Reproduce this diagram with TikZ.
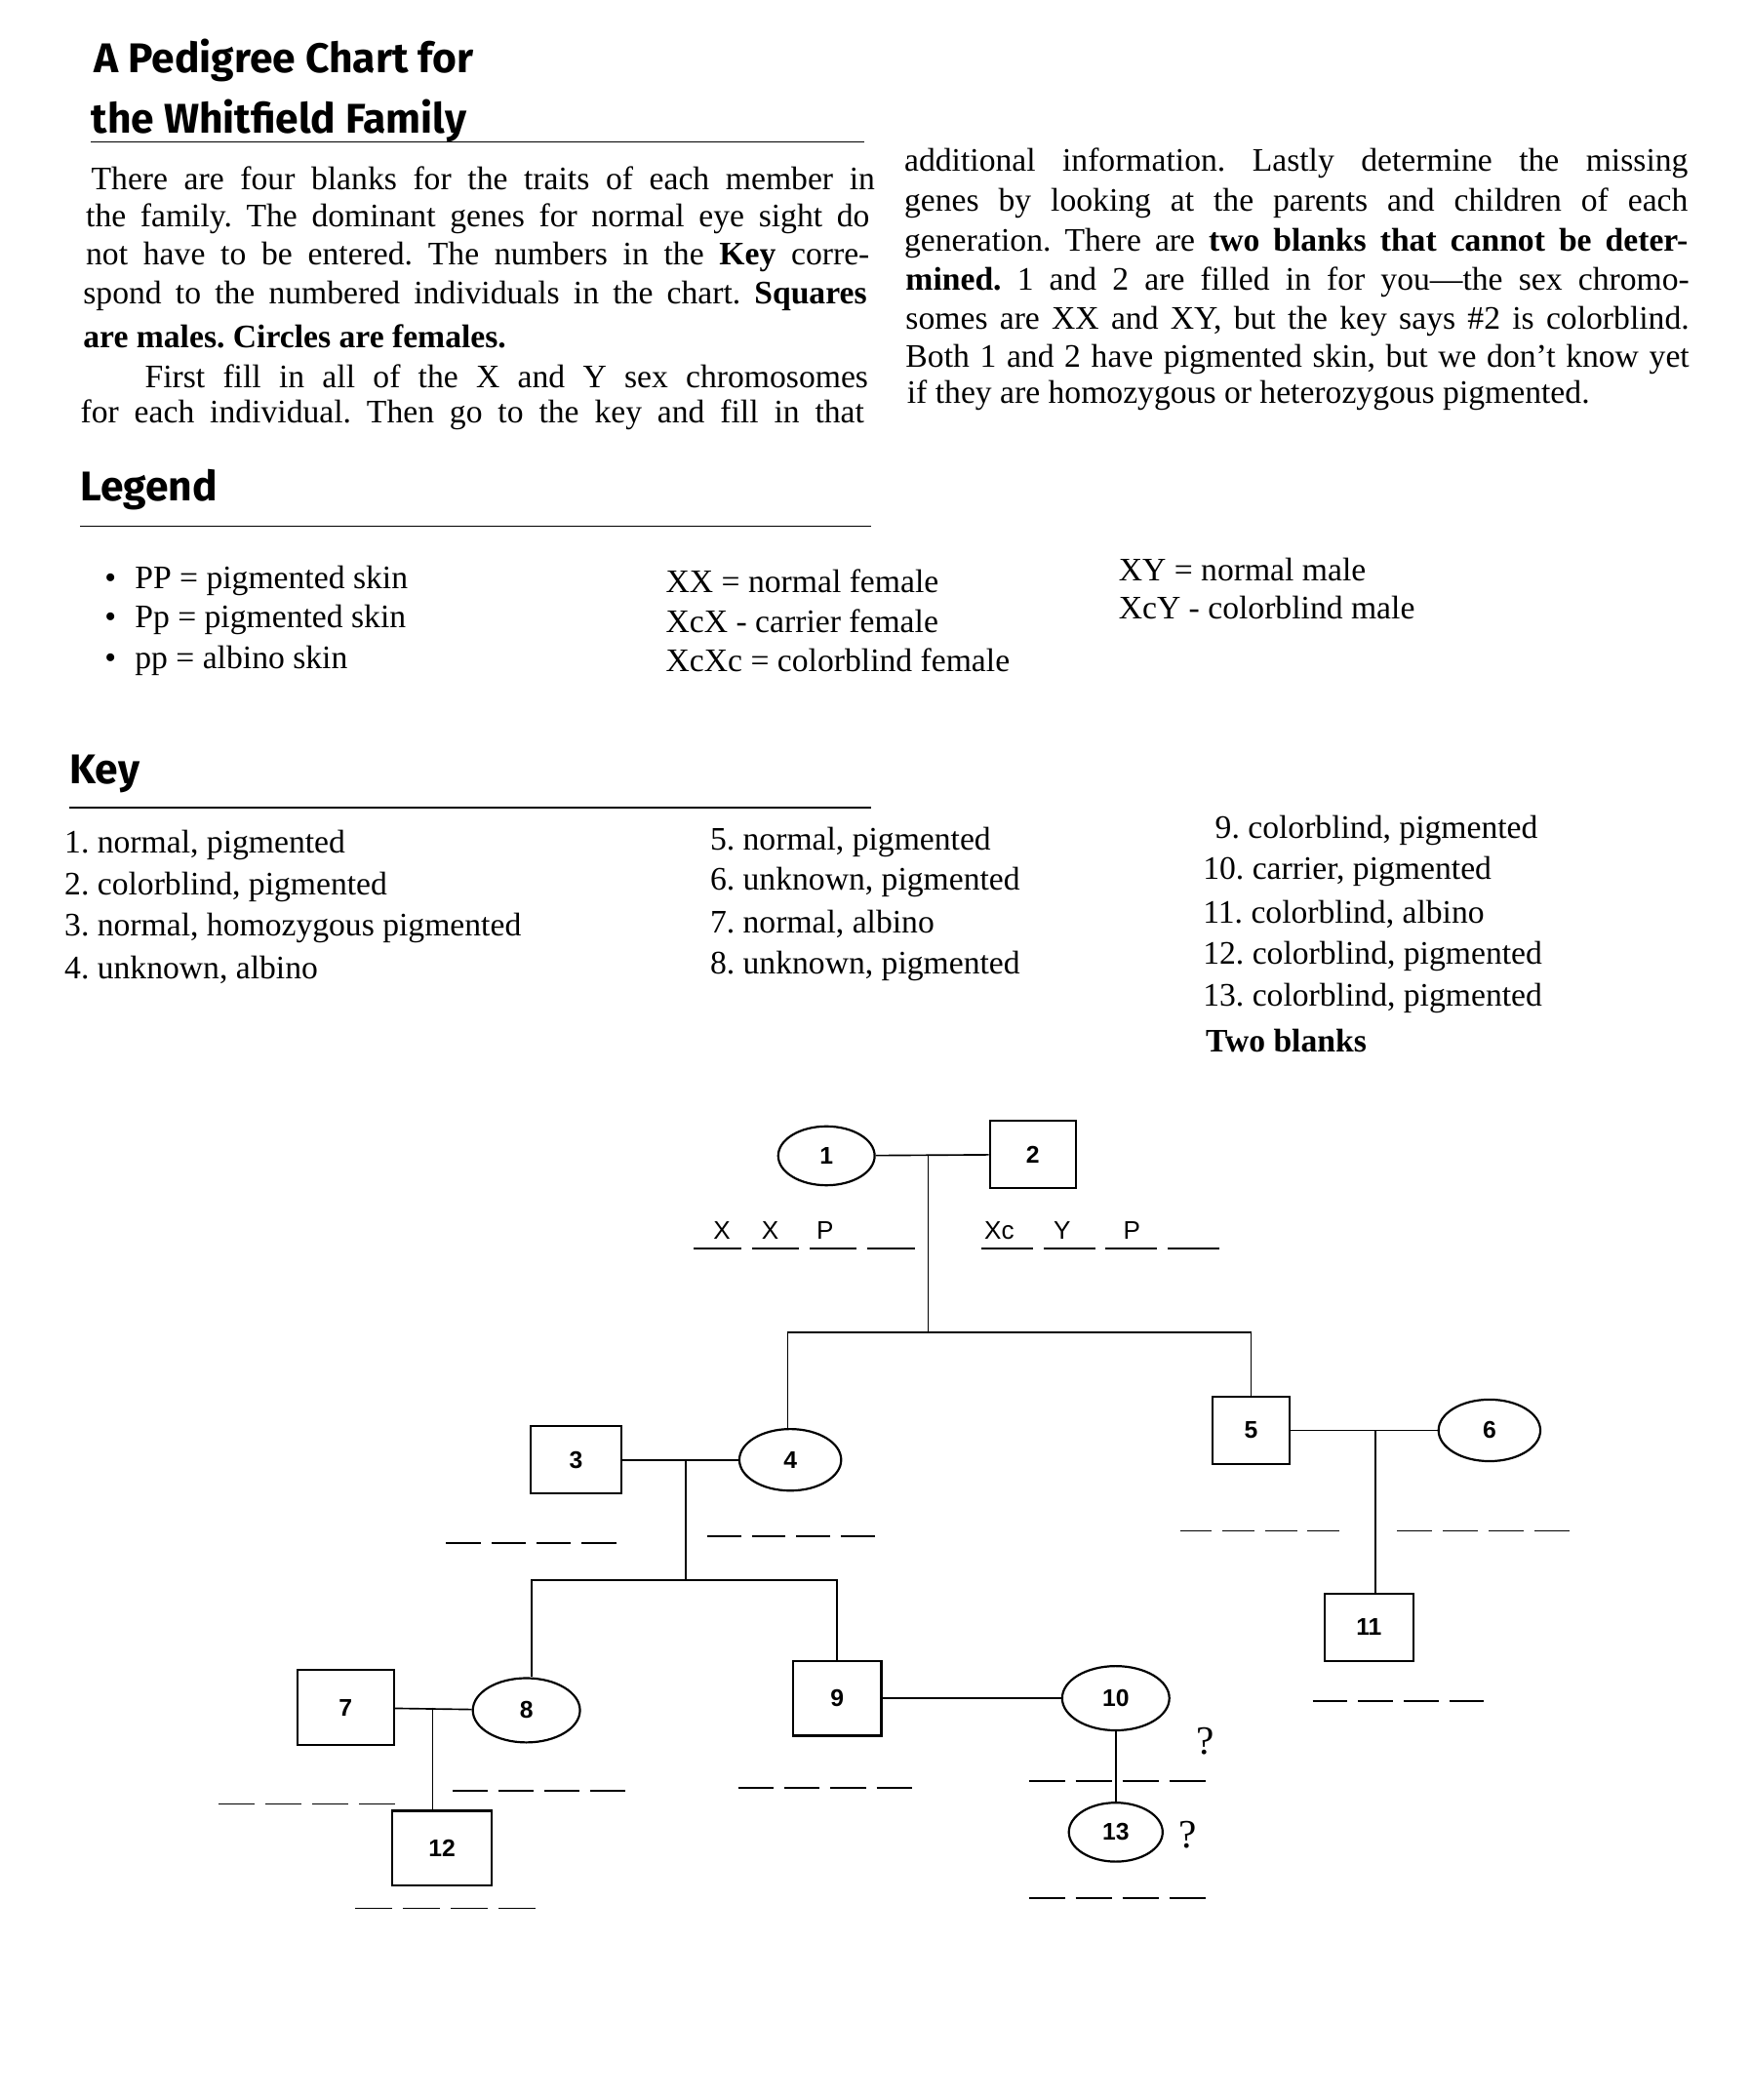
\documentclass[tikz,border=0pt]{standalone}
\usetikzlibrary{shapes.geometric}
\usepackage{fontspec}
\setmainfont{Liberation Serif}
\newfontfamily\hfont{Fira Sans}
\newfontfamily\lfont{Liberation Sans}
\frenchspacing
\begin{document}
\begin{tikzpicture}[x=1pt,y=-1pt,
  txt/.style={anchor=west,inner sep=0,font=\fontsize{24.5}{28}\selectfont},
  head/.style={anchor=west,inner sep=0,font=\hfont\bfseries\fontsize{31}{34}\selectfont},
  male/.style={draw,line width=1.6pt,minimum width=66pt,minimum height=50pt,font=\lfont\bfseries\fontsize{18}{20}\selectfont},
  female/.style={draw,ellipse,line width=1.6pt,minimum width=78pt,minimum height=46pt,font=\lfont\bfseries\fontsize{18}{20}\selectfont},
  ln/.style={line width=1.2pt},
  bl/.style={line width=1.2pt},
  lab/.style={inner sep=0,font=\lfont\fontsize{19}{20}\selectfont}]
\useasboundingbox (0,0) rectangle (1307,1568);
\fill[white] (0,0) rectangle (1307,1568);
% title
\node[head] (t1) at (70,45) {A Pedigree Chart for};
\node[head] (t2) at (68,90) {the Whitfield Family};
\draw[ln] (68,106) -- (645,106);
% left paragraph
\newcommand{\jl}[3]{\node[txt] at (#1,#2) {\makebox[585pt][s]{#3}};}
\jl{68}{133}{There are four blanks for the traits of each member in}
\jl{64}{163}{the family. The dominant genes for normal eye sight do}
\jl{64}{192}{not have to be entered. The numbers in the \textbf{Key} corre-}
\jl{62}{221}{spond to the numbered individuals in the chart. \textbf{Squares}}
\node[txt] at (62,251) {\textbf{are males. Circles are females.}};
\node[txt] at (108,281) {\makebox[540pt][s]{First fill in all of the X and Y sex chromosomes}};
\jl{60}{310}{for each individual. Then go to the key and fill in that}
% right paragraph
\jl{675}{122}{additional information. Lastly determine the missing}
\jl{675}{152}{genes by looking at the parents and children of each}
\jl{675}{182}{generation. There are \textbf{two blanks that cannot be deter-}}
\jl{676}{211}{\textbf{mined.} 1 and 2 are filled in for you—the sex chromo-}
\jl{676}{240}{somes are XX and XY, but the key says \#2 is colorblind.}
\jl{676}{268}{Both 1 and 2 have pigmented skin, but we don’t know yet}
\node[txt] at (677,295) {if they are homozygous or heterozygous pigmented.};
% legend
\node[head] (lg) at (60,366) {Legend};
\draw[ln] (60,393) -- (650,393);
\node[txt] at (78,434) {•\hspace{14pt}PP = pigmented skin};
\node[txt] at (78,463) {•\hspace{14pt}Pp = pigmented skin};
\node[txt] at (78,493) {•\hspace{14pt}pp = albino skin};
\node[txt] at (497,434) {XX = normal female};
\node[txt] at (497,464) {XcX - carrier female};
\node[txt] at (497,493) {XcXc = colorblind female};
\node[txt] at (835,425) {XY = normal male};
\node[txt] at (835,454) {XcY - colorblind male};
% key
\node[head] (ky) at (52,578) {Key};
\draw[ln] (52,603) -- (650,603);
\node[txt] at (48,631) {1. normal, pigmented};
\node[txt] at (48,662) {2. colorblind, pigmented};
\node[txt] at (48,693) {3. normal, homozygous pigmented};
\node[txt] at (48,724) {4. unknown, albino};
\node[txt] at (530,629) {5. normal, pigmented};
\node[txt] at (530,659) {6. unknown, pigmented};
\node[txt] at (530,690) {7. normal, albino};
\node[txt] at (530,721) {8. unknown, pigmented};
\node[txt] at (907,620) {9. colorblind, pigmented};
\node[txt] at (898,651) {10. carrier, pigmented};
\node[txt] at (898,683) {11. colorblind, albino};
\node[txt] at (898,714) {12. colorblind, pigmented};
\node[txt] at (898,745) {13. colorblind, pigmented};
\node[txt] at (900,777) {\textbf{Two blanks}};
% pedigree nodes
\node[female,minimum width=72pt,minimum height=44pt] (n1) at (617,863) {1};
\node[male,minimum width=64pt] (n2) at (771,862) {2};
\node[male,minimum width=68pt] (n3) at (430,1090) {3};
\node[female,minimum width=76pt] (n4) at (590,1090) {4};
\node[male,minimum width=58pt] (n5) at (934,1068) {5};
\node[female,minimum width=76pt] (n6) at (1112,1068) {6};
\node[male,minimum width=72pt,minimum height=56pt] (n7) at (258,1275) {7};
\node[female,minimum width=80pt,minimum height=48pt] (n8) at (393,1277) {8};
\node[male,minimum width=66pt,minimum height=56pt] (n9) at (625,1268) {9};
\node[female,minimum width=80pt,minimum height=48pt] (n10) at (833,1268) {10};
\node[male,minimum width=66pt] (n11) at (1022,1215) {11};
\node[male,minimum width=74pt,minimum height=56pt] (n12) at (330,1380) {12};
\node[female,minimum width=70pt,minimum height=44pt] (n13) at (833,1368) {13};
% connectors
\coordinate (c12) at (693,863);
\coordinate (c34) at (512,1090);
\coordinate (c56) at (1027,1068);
\coordinate (c78) at (323,1275);
\draw[ln] (n1) -- (n2);
\draw[ln] (c12) -- (693,995) coordinate (b1);
\draw[ln] (n4.north -| 588,0) |- (b1) -| (n5.north);
\draw[ln] (n3) -- (n4);
\draw[ln] (c34) -- (512,1180) coordinate (b2);
\draw[ln] (n8.north -| 397,0) |- (b2) -| (n9.north);
\draw[ln] (n5) -- (n6);
\draw[ln] (c56) -- (n11.north -| c56);
\draw[ln] (n7) -- (n8);
\draw[ln] (c78) -- (n12.north -| c78);
\draw[ln] (n9) -- (n10);
\draw[ln] (n10) -- (n13);
% blanks
\newcommand{\blanks}[3]{\foreach \i in {0,1,2,3} {\draw[bl] ({#1+\i*((#2)-(#1))/4+3},#3) -- ({#1+(\i+1)*((#2)-(#1))/4-5},#3);}}
\blanks{515}{688}{932}
\blanks{730}{915}{932}
\node[lab] at (539,919) {X};
\node[lab] at (575,919) {X};
\node[lab] at (616,919) {P};
\node[lab] at (746,919) {Xc};
\node[lab] at (793,919) {Y};
\node[lab] at (845,919) {P};
\blanks{330}{465}{1152}
\blanks{525}{658}{1147}
\blanks{878}{1005}{1143}
\blanks{1040}{1177}{1143}
\blanks{977}{1113}{1270}
\blanks{160}{300}{1347}
\blanks{335}{472}{1337}
\blanks{548}{686}{1335}
\blanks{765}{905}{1330}
\blanks{262}{405}{1425}
\blanks{765}{905}{1417}
\node[lab,font=\fontsize{30}{30}\selectfont] (q1) at (900,1300) {?};
\node[lab,font=\fontsize{30}{30}\selectfont] (q2) at (887,1370) {?};
\end{tikzpicture}
\end{document}
